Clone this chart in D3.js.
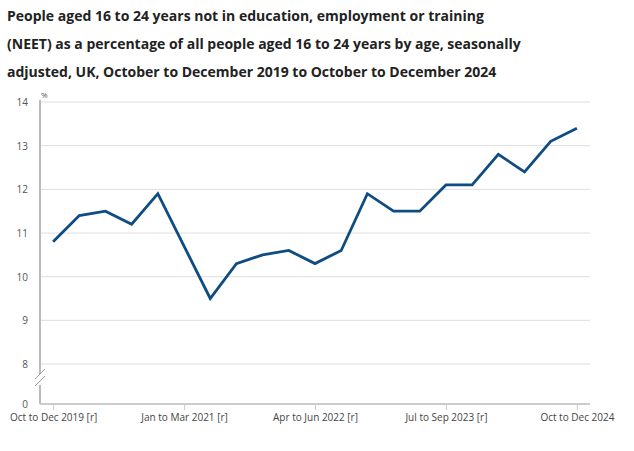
<!DOCTYPE html>
<html>
<head>
<meta charset="utf-8">
<script src="https://cdn.jsdelivr.net/npm/d3@7"></script>
<style>
  body { margin: 0; background: #fff; }
  text { font-family: "Open Sans", sans-serif; }
</style>
</head>
<body>
<svg id="chart"></svg>
<script>
// quarters, Oct-Dec 2019 to Oct-Dec 2024
var quarters = ["Oct to Dec 2019 [r]","Jan to Mar 2020 [r]","Apr to Jun 2020 [r]","Jul to Sep 2020 [r]",
  "Oct to Dec 2020 [r]","Jan to Mar 2021 [r]","Apr to Jun 2021 [r]","Jul to Sep 2021 [r]",
  "Oct to Dec 2021 [r]","Jan to Mar 2022 [r]","Apr to Jun 2022 [r]","Jul to Sep 2022 [r]",
  "Oct to Dec 2022 [r]","Jan to Mar 2023 [r]","Apr to Jun 2023 [r]","Jul to Sep 2023 [r]",
  "Oct to Dec 2023 [r]","Jan to Mar 2024 [r]","Apr to Jun 2024 [r]","Jul to Sep 2024 [r]",
  "Oct to Dec 2024"];
var neet = [10.8, 11.4, 11.5, 11.2, 11.9, 10.7, 9.5, 10.3, 10.5, 10.6, 10.3,
  10.6, 11.9, 11.5, 11.5, 12.1, 12.1, 12.8, 12.4, 13.1, 13.4];
var yTicks = [0, 8, 9, 10, 11, 12, 13, 14];
var xTickLabels = ["Oct to Dec 2019 [r]","Jan to Mar 2021 [r]","Apr to Jun 2022 [r]","Jul to Sep 2023 [r]","Oct to Dec 2024"];
var titleLines = ["People aged 16 to 24 years not in education, employment or training",
  "(NEET) as a percentage of all people aged 16 to 24 years by age, seasonally",
  "adjusted, UK, October to December 2019 to October to December 2024"];

var W = 634, H = 451;
var svg = d3.select("#chart").attr("width", W).attr("height", H);

svg.selectAll("text.title")
   .data(titleLines)
   .enter()
   .append("text")
   .classed("title", true)
   .attr("x", 7)
   .attr("y", function(d, i){ return 21 + i * 28; })
   .attr("font-size", "14px")
   .attr("font-weight", "bold")
   .attr("fill", "#222")
   .text(function(d){ return d; });

var left = 40, right = 590;
var xScale = d3.scalePoint().domain(quarters).range([left, right]).padding(0.5);
// broken axis: 0 then 8 to 14
var yScale = d3.scaleLinear().domain([0, 8, 14]).range([404, 364, 102]);

// gridlines
svg.append("g").selectAll("line")
   .data(yTicks.filter(function(d){ return d > 0; }))
   .enter()
   .append("line")
   .attr("x1", left).attr("x2", right)
   .attr("y1", function(d){ return yScale(d); })
   .attr("y2", function(d){ return yScale(d); })
   .attr("stroke", "#dedede")
   .attr("stroke-width", 1);

// y axis labels
svg.append("g").selectAll("text")
   .data(yTicks)
   .enter()
   .append("text")
   .attr("x", 28)
   .attr("y", function(d){ return yScale(d) + 4; })
   .attr("text-anchor", "end")
   .attr("font-size", "10px")
   .attr("fill", "#555")
   .text(function(d){ return d; });

svg.append("text")
   .attr("x", 41).attr("y", 98)
   .attr("font-size", "8px")
   .attr("fill", "#555")
   .text("%");

// y axis line with break
svg.append("line")
   .attr("x1", left).attr("x2", left)
   .attr("y1", yScale(14) - 2).attr("y2", 374)
   .attr("stroke", "#bbb").attr("stroke-width", 2);
svg.append("line")
   .attr("x1", left).attr("x2", left)
   .attr("y1", 385).attr("y2", yScale(0))
   .attr("stroke", "#bbb").attr("stroke-width", 2);
[374, 381].forEach(function(y){
  svg.append("line")
     .attr("x1", left - 5).attr("x2", left + 5)
     .attr("y1", y + 5).attr("y2", y - 5)
     .attr("stroke", "#999").attr("stroke-width", 1);
});

// x axis
var xAxis = d3.axisBottom(xScale)
  .tickValues(xTickLabels)
  .tickSize(6)
  .tickPadding(4);
var gx = svg.append("g")
  .attr("transform", "translate(0," + yScale(0) + ")")
  .call(xAxis);
gx.select(".domain")
  .attr("d", "M" + left + ",0H" + right)
  .attr("stroke", "#ccc").attr("stroke-width", 2);
gx.selectAll(".tick line").attr("stroke", "#ccc");
gx.selectAll(".tick text")
  .attr("font-family", "'Open Sans', sans-serif")
  .attr("font-size", "10px")
  .attr("fill", "#444");

// the line
var line = d3.line()
  .x(function(d, i){ return xScale(quarters[i]); })
  .y(function(d){ return yScale(d); });

svg.append("path")
   .datum(neet)
   .attr("d", line)
   .attr("fill", "none")
   .attr("stroke", "#0f4c81")
   .attr("stroke-width", 2.8)
   .attr("stroke-linejoin", "miter");
</script>
</body>
</html>
